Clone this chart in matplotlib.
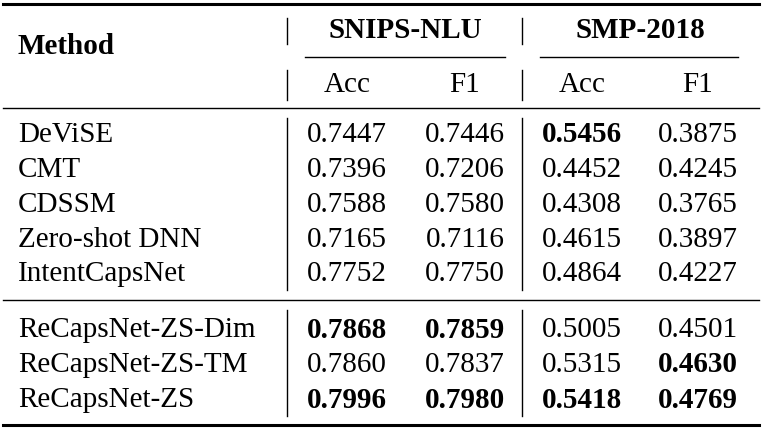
import matplotlib
matplotlib.use("Agg")
import matplotlib.pyplot as plt

methods = ["DeViSE", "CMT", "CDSSM", "Zero-shot DNN", "IntentCapsNet",
           "ReCapsNet-ZS-Dim", "ReCapsNet-ZS-TM", "ReCapsNet-ZS"]
snips_acc = ["0.7447", "0.7396", "0.7588", "0.7165", "0.7752", "0.7868", "0.7860", "0.7996"]
snips_f1 = ["0.7446", "0.7206", "0.7580", "0.7116", "0.7750", "0.7859", "0.7837", "0.7980"]
smp_acc = ["0.5456", "0.4452", "0.4308", "0.4615", "0.4864", "0.5005", "0.5315", "0.5418"]
smp_f1 = ["0.3875", "0.4245", "0.3765", "0.3897", "0.4227", "0.4501", "0.4630", "0.4769"]
bold = {(0, 2), (5, 0), (5, 1), (6, 3), (7, 0), (7, 1), (7, 2), (7, 3)}

plt.rcParams['font.family'] = ['Liberation Serif', 'DejaVu Serif']
fig = plt.figure(figsize=(7.62, 4.29), dpi=100)
ax = fig.add_axes([0, 0, 1, 1])
ax.set_xlim(0, 762); ax.set_ylim(429, 0); ax.axis('off')
fs = 21
col_x = [347, 465, 582, 698]

ax.plot([3, 759], [4, 4], color='k', lw=2.2)
ax.plot([3, 759], [108, 108], color='k', lw=1.0)
ax.plot([3, 759], [300, 300], color='k', lw=1.0)
ax.plot([3, 759], [425, 425], color='k', lw=2.2)
ax.plot([305, 505], [57, 57], color='k', lw=1.0)
ax.plot([540, 738], [57, 57], color='k', lw=1.0)

ax.text(18, 47, "Method", fontsize=fs, fontweight='bold', va='center', ha='left')
ax.text(405, 31, "SNIPS-NLU", fontsize=fs, fontweight='bold', va='center', ha='center')
ax.text(640, 31, "SMP-2018", fontsize=fs, fontweight='bold', va='center', ha='center')
for x, lab in zip(col_x, ["Acc", "F1", "Acc", "F1"]):
    ax.text(x, 85, lab, fontsize=fs, va='center', ha='center')

# vertical separators
for x in (287, 522):
    ax.plot([x, x], [18, 44], color='k', lw=1.0)
    ax.plot([x, x], [70, 100], color='k', lw=1.0)
    ax.plot([x, x], [118, 290], color='k', lw=1.0)
    ax.plot([x, x], [310, 416], color='k', lw=1.0)

row_y = [135, 170, 205, 240, 274, 330, 365, 400]
cols = [snips_acc, snips_f1, smp_acc, smp_f1]
for i, m in enumerate(methods):
    y = row_y[i]
    ax.text(18, y, m, fontsize=fs, va='center', ha='left')
    for j, c in enumerate(cols):
        ax.text(col_x[j], y, c[i], fontsize=fs, va='center', ha='center',
                fontweight='bold' if (i, j) in bold else 'normal')

fig.savefig("out.png", dpi=100)
